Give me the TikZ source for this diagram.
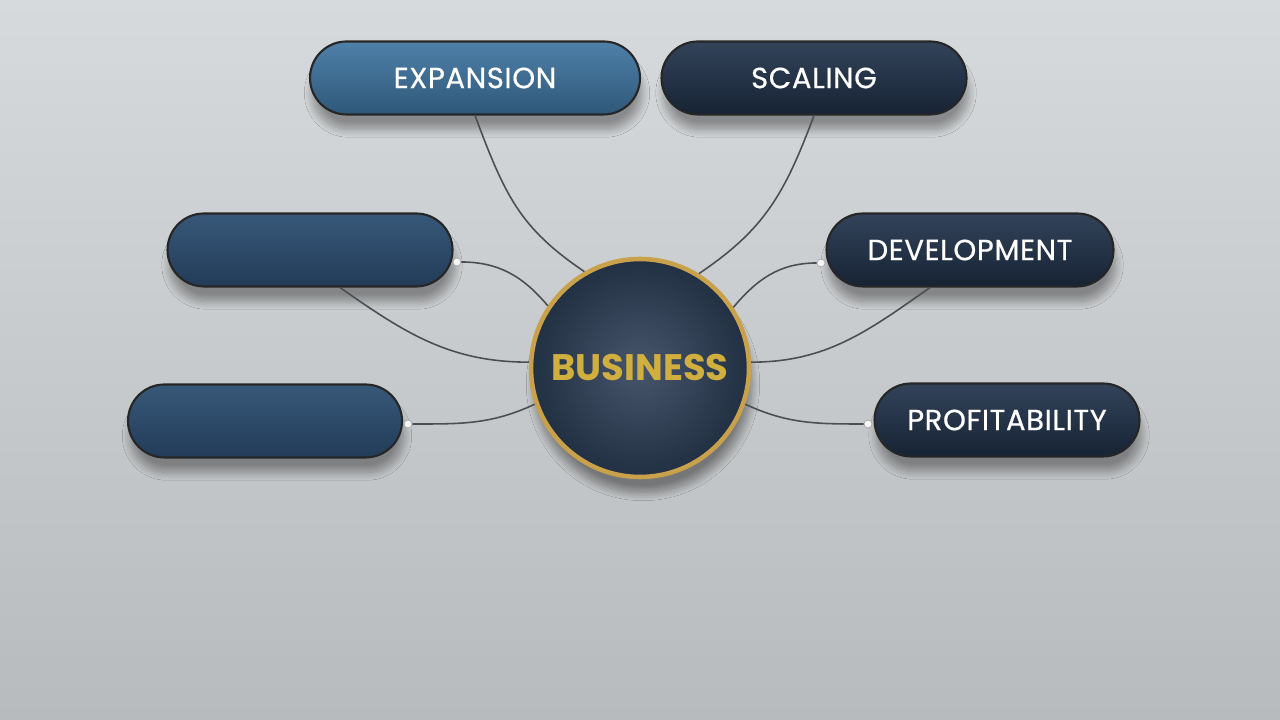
\documentclass[tikz,border=0pt]{standalone}
\usepackage{fontspec}
\setmainfont{Poppins}
\newfontfamily\labelfont{Poppins}[LetterSpace=2,FakeBold=0.5]
\usetikzlibrary{shapes.misc,shadows.blur,calc}

\definecolor{bgtop}{HTML}{D7DADC}
\definecolor{bgbot}{HTML}{B8BBBD}
\definecolor{steeltop}{HTML}{4F80A9}
\definecolor{steelbot}{HTML}{2E5879}
\definecolor{midtop}{HTML}{385879}
\definecolor{midbot}{HTML}{223C58}
\definecolor{navytop}{HTML}{32435A}
\definecolor{navybot}{HTML}{172334}
\definecolor{gold}{HTML}{C9A14A}
\definecolor{wirecol}{HTML}{4B4F54}

\tikzset{
  pill/.style={rounded rectangle, draw=black!85, line width=0.6pt,
    minimum height=0.73cm, inner sep=0pt, text=white,
    font=\labelfont\fontsize{8.3}{9}\selectfont,
    blur shadow={shadow xshift=0.2mm, shadow yshift=-1.5mm, shadow blur steps=12, shadow opacity=35}},
  steel/.style={top color=steeltop, bottom color=steelbot},
  mid/.style={top color=midtop, bottom color=midbot},
  navy/.style={top color=navytop, bottom color=navybot},
  knob/.style={circle, fill=white!92!gray, draw=gray!70, line width=0.2pt, inner sep=0pt, minimum size=0.08cm},
  wire/.style={draw=wirecol, line width=0.45pt},
}

\begin{document}
\begin{tikzpicture}
    \shade[top color=bgtop, bottom color=bgbot] (0,0) rectangle (12.8,7.2);
    \useasboundingbox (0,0) rectangle (12.8,7.2);

    % pills
    \foreach \n/\x/\y/\w/\s/\t in {exp/4.75/6.42/3.30/steel/EXPANSION,
                                    scal/8.14/6.42/3.05/navy/SCALING,
                                    lt/3.10/4.70/2.85/mid/{},
                                    dev/9.70/4.70/2.87/navy/DEVELOPMENT,
                                    lb/2.65/2.99/2.74/mid/{},
                                    prof/10.07/3.00/2.65/navy/PROFITABILITY}{
      \node[pill, \s, minimum width=\w cm] (\n) at (\x,\y) {\raisebox{-0.3mm}{\t}};
    }

    % centre
    \node[circle, draw=gold, line width=1.3pt, minimum size=2.18cm,
      inner color=navytop!90!white, outer color=navybot!60!navytop, text=gold!85!yellow,
      font=\fontsize{10.5}{12}\selectfont\bfseries,
      blur shadow={shadow xshift=0.3mm, shadow yshift=-1.6mm, shadow blur steps=12, shadow opacity=40}]
      (biz) at (6.40,3.52) {BUSINESS};

    % knobs
    \node[knob] (ltk) at (4.57,4.58) {};
    \node[knob] (lbk) at (4.08,2.96) {};
    \node[knob] (devk) at (8.21,4.57) {};
    \node[knob] (profk) at (8.68,2.96) {};
    \coordinate (ltb) at ($(lt.south)+(0.30,0)$);
    \coordinate (devb) at ($(dev.south)+(-0.40,0)$);

    % wires
    \draw[wire] (exp.south) .. controls +(0.3,-0.8) and +(-0.65,0.44) .. (biz.120);
    \draw[wire] (scal.south) .. controls +(-0.3,-0.8) and +(0.65,0.44) .. (biz.58);
    \draw[wire] (ltk) to[out=0, in=130] (biz.146);
    \draw[wire] (ltb) to[out=-35, in=180] (biz.177);
    \draw[wire] (lbk) to[out=0, in=205] (biz.199);
    \draw[wire] (devk) to[out=180, in=50] (biz.33);
    \draw[wire] (devb) to[out=-145, in=0] (biz.3);
    \draw[wire] (profk) to[out=180, in=-25] (biz.-19);

  \end{tikzpicture}
\end{document}
